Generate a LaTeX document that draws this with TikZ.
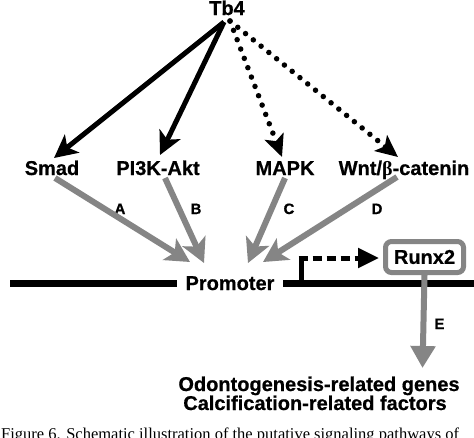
\documentclass[tikz,border=0pt]{standalone}
\usepackage{fontspec}
\setmainfont{Liberation Sans}[BoldFeatures={FakeBold=0.6}]
\newfontfamily\capfont{Liberation Serif}
\usetikzlibrary{arrows.meta}
\definecolor{pgray}{HTML}{858585}
\begin{document}
\begin{tikzpicture}[x=1pt,y=-1pt,
  lbl/.style={font=\fontsize{20}{24}\selectfont\bfseries, anchor=base, inner sep=0pt},
  smalllbl/.style={font=\fontsize{15}{18}\selectfont\bfseries, anchor=base, inner sep=0pt},
  blkarrow/.style={line width=5pt, -{Stealth[length=23pt,width=23pt,inset=6pt]}},
  dotarrow/.style={line width=5.5pt, line cap=round, dash pattern=on 0pt off 10pt,
     -{Stealth[length=22pt,width=20pt,inset=5pt,line cap=butt]}},
  grayarrow/.style={pgray, line width=6pt, -{Stealth[length=24pt,width=25pt,inset=6pt]}},
  dna/.style={line width=7pt},
  boxstyle/.style={draw=pgray, line width=5pt, rounded corners=6pt, fill=white,
     minimum width=78pt, minimum height=31pt, inner sep=0pt,
     font=\fontsize{20}{24}\selectfont\bfseries}
]
\useasboundingbox (0,0) rectangle (474,437);
\fill[white] (0,0) rectangle (474,437);

% labels
\node[lbl] (tb4) at (227,15) {Tb4};
\node[lbl] (smad) at (52,175) {Smad};
\node[lbl] (pi3k) at (158,175) {PI3K-Akt};
\node[lbl] (mapk) at (285,175) {MAPK};
\node[lbl] (wnt) at (404,175) {Wnt/{\capfont β}-catenin};
\node[lbl] (prom) at (230,290) {Promoter};
\node[boxstyle] (runx) at (424.5,257) {Runx2};

\node[smalllbl] (la) at (120,214) {A};
\node[smalllbl] (lb) at (196,214) {B};
\node[smalllbl] (lc) at (289,214) {C};
\node[smalllbl] (ld) at (377,214) {D};
\node[smalllbl] (le) at (439.5,329) {E};

\node[lbl] (genes) at (319,391) {Odontogenesis-related genes};
\node[lbl] (factors) at (315,410) {Calcification-related factors};

\node[anchor=base west, inner sep=0pt, font=\capfont\fontsize{16.5}{20}\selectfont] (cap) at (1,439)
  {Figure 6. Schematic illustration of the putative signaling pathways of};

% coordinates for connector ends
\coordinate (tb4a) at (224,22);
\coordinate (tb4b) at (230,21);
\coordinate (smadin) at (54,158);
\coordinate (pi3kin) at (160,155);
\coordinate (mapkin) at (282,157);
\coordinate (wntin) at (398,157);
\coordinate (smadout) at (55,178);
\coordinate (pi3kout) at (165,178);
\coordinate (mapkout) at (285,178);
\coordinate (wntout) at (397,177);
\coordinate (pA) at (190,262);
\coordinate (pB) at (204,263);
\coordinate (pC) at (248,263);
\coordinate (pD) at (263,262);
\coordinate (dnaL1) at (10,283.5);
\coordinate (dnaL2) at (177,283.5);
\coordinate (dnaR1) at (283,283.5);
\coordinate (dnaR2) at (474,283.5);
\coordinate (tss) at (301,281);
\coordinate (tsscorner) at (301,258);
\coordinate (tssend) at (379,258);
\coordinate (gout) at (422.5,368);

% Tb4 arrows
\draw[blkarrow] (tb4a) -- (smadin);
\draw[blkarrow] (tb4a) -- (pi3kin);
\draw[dotarrow] (tb4b) -- (mapkin);
\draw[dotarrow] (tb4b) -- (wntin);

% gray arrows to promoter
\draw[grayarrow] (smadout) -- (pA);
\draw[grayarrow] (pi3kout) -- (pB);
\draw[grayarrow] (mapkout) -- (pC);
\draw[grayarrow] (wntout) -- (pD);

% DNA
\draw[dna] (dnaL1) -- (dnaL2);
\draw[dna] (dnaR1) -- (dnaR2);

% transcription start
\draw[line width=5pt] (tss) -- ([yshift=-2.5pt]tsscorner);
\draw[line width=5pt, dash pattern=on 9pt off 5pt,
      -{Triangle[length=21pt,width=19pt]}] ([xshift=-2.5pt]tsscorner) -- (tssend);

% Runx2 -> genes
\draw[grayarrow, -{Triangle[length=22pt,width=24pt]}] (runx.south) -- (gout);
\end{tikzpicture}
\end{document}
